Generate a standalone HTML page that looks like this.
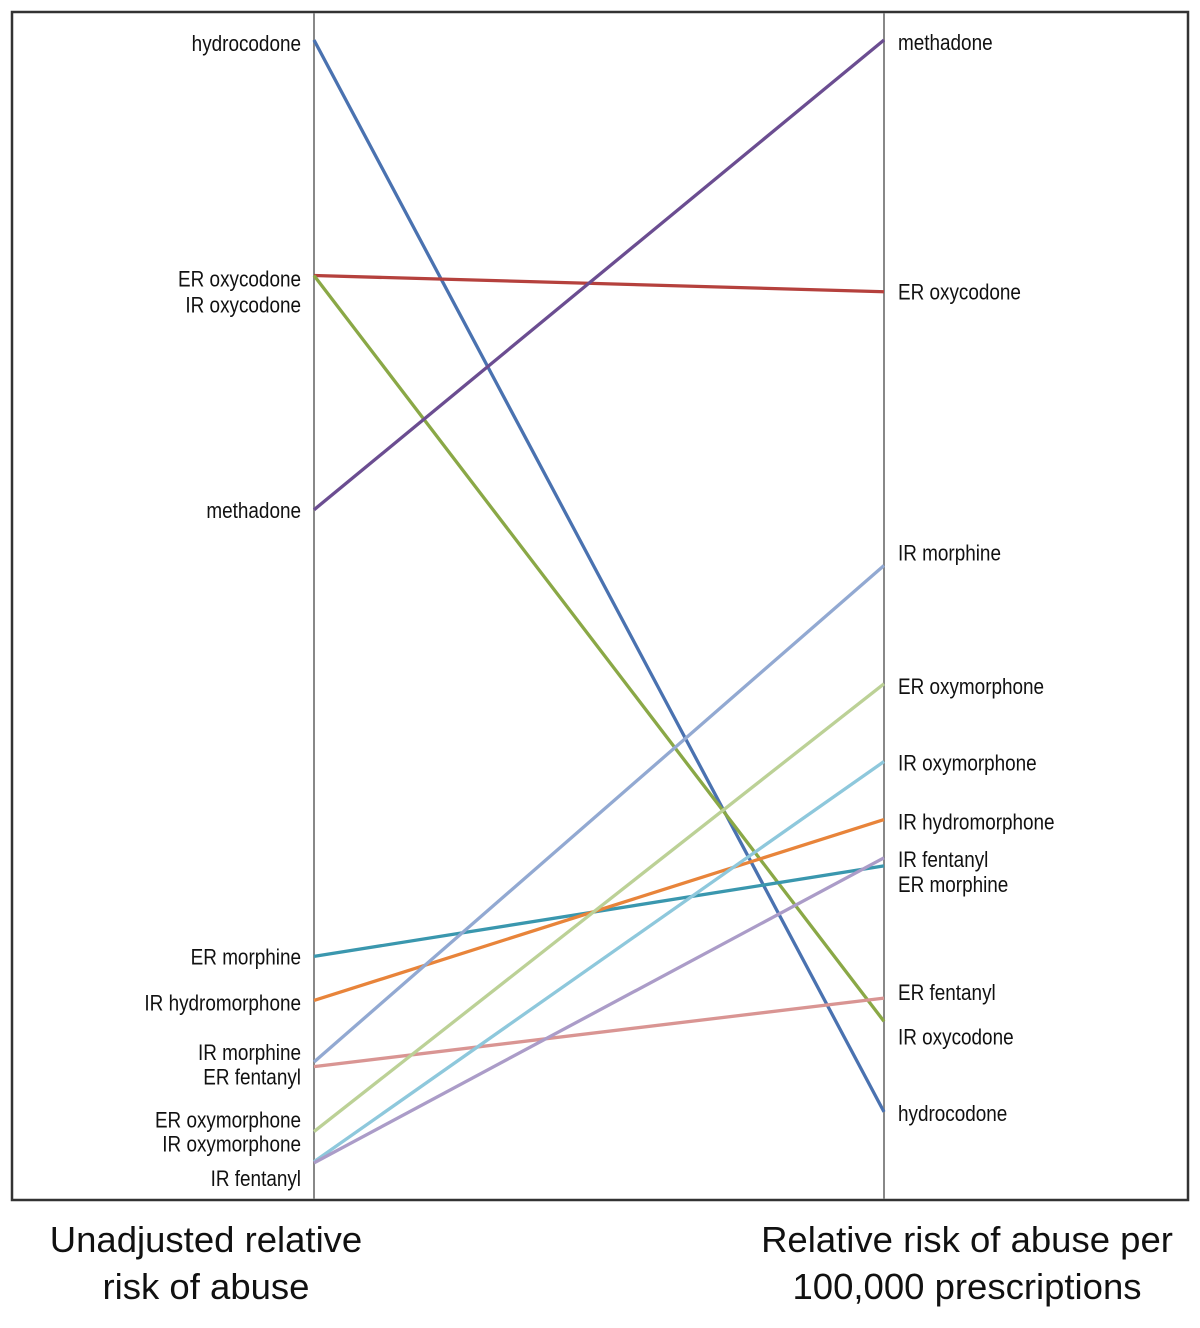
<!DOCTYPE html>
<html><head><meta charset="utf-8"><style>
body{margin:0;background:#fff;width:1200px;height:1328px;overflow:hidden}
svg{display:block}
text{font-family:"Liberation Sans",sans-serif;font-size:22px;fill:#111}
.t{font-family:"Liberation Sans",sans-serif;font-size:36.5px;fill:#111}
</style></head><body>
<svg id="chart" width="1200" height="1328">
<rect x="12" y="12" width="1176" height="1188" fill="#fff" stroke="#333" stroke-width="2.5"/>
<line x1="314" y1="13" x2="314" y2="1199" stroke="#888" stroke-width="2"/>
<line x1="884" y1="13" x2="884" y2="1199" stroke="#888" stroke-width="2"/>
<g id="lines"></g><g id="labels"></g>
<text class="t" x="206" y="1252" text-anchor="middle">Unadjusted relative</text>
<text class="t" x="206" y="1299" text-anchor="middle">risk of abuse</text>
<text class="t" x="967" y="1252" text-anchor="middle">Relative risk of abuse per</text>
<text class="t" x="967" y="1299" text-anchor="middle">100,000 prescriptions</text>
</svg>
<script>
const drugs=["hydrocodone","ER oxycodone","IR oxycodone","methadone","ER morphine","IR hydromorphone","IR morphine","ER fentanyl","ER oxymorphone","IR oxymorphone","IR fentanyl"];
const unadjusted=[100,79.7,79.7,59.5,21.0,17.2,11.9,11.5,5.9,3.3,3.2];
const perRx=[7.6,78.3,15.4,100,28.8,32.8,54.7,17.4,44.5,37.8,29.5];
const colors=["#4a72b0","#b5413d","#8aa846","#6b4d91","#3a97ae","#e8843a","#92a9d2","#d99593","#bcd196","#8ec8dc","#ab9cc8"];
const leftNudge=[3,3,29,0,0,2,-10,10,-12,-18,15];
const rightNudge=[1,0,15,2,18,2,-13,-6,2,1,1];
const X0=314,X1=884,SX=0.86;
function y(v){return 1200-v*11.6;}
const NS="http://www.w3.org/2000/svg";
const gl=document.getElementById('lines'),gt=document.getElementById('labels');
drugs.forEach((d,i)=>{
  const l=document.createElementNS(NS,'line');
  l.setAttribute('x1',X0);l.setAttribute('y1',y(unadjusted[i]));
  l.setAttribute('x2',X1);l.setAttribute('y2',y(perRx[i]));
  l.setAttribute('stroke',colors[i]);l.setAttribute('stroke-width',3.3);
  
  
  gl.appendChild(l);
  const a=document.createElementNS(NS,'text');
  a.setAttribute('transform','translate(301,'+(y(unadjusted[i])+leftNudge[i]+8)+') scale('+SX+',1)');
  a.setAttribute('text-anchor','end');a.textContent=d;
  
  
  gt.appendChild(a);
  const b=document.createElementNS(NS,'text');
  b.setAttribute('transform','translate(898,'+(y(perRx[i])+rightNudge[i]+8)+') scale('+SX+',1)');
  b.textContent=d;
  
  
  gt.appendChild(b);
});
</script>
</body></html>
